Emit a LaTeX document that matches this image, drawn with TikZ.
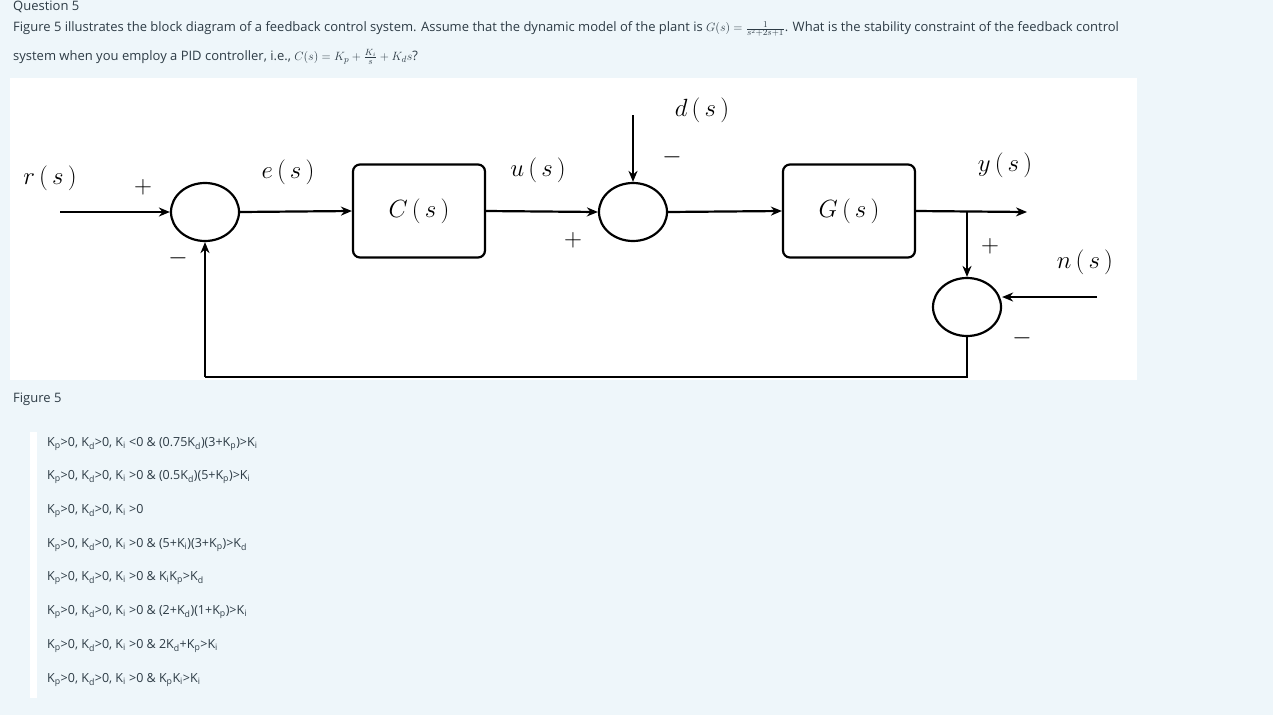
\documentclass[tikz,border=0pt]{standalone}
\usepackage{fontspec}
\setmainfont{Open Sans}
\usepackage{amsmath}
\usetikzlibrary{arrows.meta,shapes.geometric}
\definecolor{bg}{HTML}{EEF6FA}
\definecolor{txt}{HTML}{2D3B45}
\begin{document}
\begin{tikzpicture}[x=1pt,y=-1pt,
  qtext/.style={anchor=west,inner sep=0,text=txt,font=\fontsize{13}{15}\selectfont},
  ans/.style={anchor=west,inner sep=0,text=txt,font=\fontsize{12.5}{15}\selectfont},
  sig/.style={inner sep=0,font=\fontsize{30}{34}\selectfont},
  sgn/.style={inner sep=0,font=\fontsize{26}{30}\selectfont},
  sumj/.style={draw,line width=2.2pt,ellipse,minimum width=68pt,minimum height=58pt,inner sep=0},
  blk/.style={draw,line width=2.2pt,rounded corners=7pt,minimum width=132pt,minimum height=93pt,inner sep=0},
  wire/.style={line width=2.2pt},
  arr/.style={line width=2.2pt,-{Stealth[length=11pt,width=9pt]}}]
\useasboundingbox (0,0) rectangle (1273,715);
\fill[bg] (0,0) rectangle (1273,715);
\fill[white] (10,78) rectangle (1137,380);
\fill[white] (30,432) rectangle (37,698);
\node[qtext] (q) at (13,7) {Question 5};
\node[qtext] (l1) at (13,29) {Figure 5 illustrates the block diagram of a feedback control system. Assume that the dynamic model of the plant is $G(s)=\frac{1}{s^2+2s+1}$. What is the stability constraint of the feedback control};
\node[qtext] (l2) at (13,57) {system when you employ a PID controller, i.e., $C(s)=K_p+\frac{K_i}{s}+K_d s$?};
\node[qtext] (fig) at (13,399) {Figure 5};
% diagram
\node[sumj] (s1) at (205,212) {};
\node[blk] (C) at (419,211) {};
\node[sig] at (C) {$C\,(\,s\,)$};
\node[sumj] (s2) at (633,212) {};
\node[blk] (G) at (849,211) {};
\node[sig] at (G) {$G\,(\,s\,)$};
\node[sumj] (s3) at (967,307) {};
\coordinate (rin) at (60,212);
\coordinate (dtop) at (633,115);
\coordinate (br) at (967,212);
\coordinate (yout) at (1027,212);
\coordinate (nin) at (1097,297);
\coordinate (fb1) at (967,377);
\coordinate (fb2) at (205,377);
\draw[arr] (rin) -- (s1.west);
\draw[arr] (s1.east) -- (C.west);
\draw[arr] (C.east) -- (s2.west);
\draw[arr] (dtop) -- (s2.north);
\draw[arr] (s2.east) -- (G.west);
\draw[arr] (G.east) -- (yout);
\draw[arr] (br) -- (s3.north);
\draw[arr] (nin) -- (s3.east |- nin);
\draw[wire] (s3.south) -- (fb1) -- (fb2);
\draw[arr] (fb2) -- (s1.south);
\node[sig] (r) at (50,178) {$r\,(\,s\,)$};
\node[sgn] at (143,187) {$+$};
\node[sgn] at (178,258) {$-$};
\node[sig] (e) at (288,172) {$e\,(\,s\,)$};
\node[sig] (u) at (538,170) {$u\,(\,s\,)$};
\node[sgn] at (573,240) {$+$};
\node[sig] (d) at (702,110) {$d\,(\,s\,)$};
\node[sgn] at (672,157) {$-$};
\node[sig] (y) at (1005,165) {$y\,(\,s\,)$};
\node[sgn] at (990,246) {$+$};
\node[sig] (n) at (1085,262) {$n\,(\,s\,)$};
\node[sgn] at (1022,338) {$-$};
% answers
\newcommand{\kk}[1]{K\textsubscript{#1}}
\newcommand{\pre}{\kk{p}>0, \kk{d}>0, \kk{i} }
\node[ans] (a1) at (47,444) {\pre<0 \& (0.75\kk{d})(3+\kk{p})>\kk{i}};
\node[ans] (a2) at (47,477) {\pre>0 \& (0.5\kk{d})(5+\kk{p})>\kk{i}};
\node[ans] (a3) at (47,511) {\pre>0};
\node[ans] (a4) at (47,545) {\pre>0 \& (5+\kk{i})(3+\kk{p})>\kk{d}};
\node[ans] (a5) at (47,578) {\pre>0 \& \kk{i}\kk{p}>\kk{d}};
\node[ans] (a6) at (47,612) {\pre>0 \& (2+\kk{d})(1+\kk{p})>\kk{i}};
\node[ans] (a7) at (47,646) {\pre>0 \& 2\kk{d}+\kk{p}>\kk{i}};
\node[ans] (a8) at (47,680) {\pre>0 \& \kk{p}\kk{i}>\kk{i}};
\end{tikzpicture}
\end{document}
